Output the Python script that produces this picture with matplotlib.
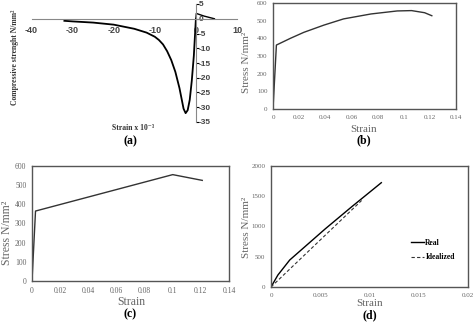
import numpy as np
import matplotlib.pyplot as plt

plt.rcParams['axes.unicode_minus'] = False

# (a) concrete compression / tension curve (strain x 10^-3, N/mm2)
comp_strain = [-32, -30, -25, -20, -15, -12, -10, -9, -8, -7, -6, -5, -4, -3.5, -3, -2.5, -2, -1.5, -1, -0.5, 0]
comp_stress = [-0.7, -0.9, -1.3, -2.0, -3.4, -4.7, -6.1, -7.2, -8.7, -11, -14, -18, -23.5, -27, -30.5, -32, -31, -27.5, -21, -12.5, 0]
tens_strain = [0, 0.1, 2, 4.5]
tens_stress = [0, 1.8, 0.9, 0]

# (b) steel real curve
b_strain = [0, 0.0026, 0.0133, 0.0236, 0.039, 0.054, 0.075, 0.095, 0.106, 0.116, 0.1215]
b_stress = [0, 362, 400, 434, 475, 510, 538, 555, 557, 545, 528]

# (c) steel idealized
c_strain = [0, 0.0025, 0.1, 0.121]
c_stress = [0, 365, 555, 525]

# (d) real vs idealized
d_real_x = [0, 0.0007, 0.0019, 0.0041, 0.0055, 0.0082, 0.0112]
d_real_y = [0, 198, 446, 760, 960, 1327, 1724]
d_ideal_x = [0, 0.0092]
d_ideal_y = [0, 1430]

W, H = 474, 322
fig = plt.figure(figsize=(W / 100, H / 100), dpi=100)
grey = '#666666'
serif = 'Liberation Serif'
serif_list = ['Liberation Serif', 'DejaVu Serif']

def box(l, t, r, b):
    return [l / W, 1 - b / H, (r - l) / W, (b - t) / H]

# ---- (a)
ax = fig.add_axes(box(31.5, 4, 237, 122))
ax.plot(comp_strain, comp_stress, color='black', lw=1.3)
ax.plot(tens_strain, tens_stress, color='black', lw=1.0)
ax.set_xlim(-40, 10)
ax.set_ylim(-35, 5)
# axes cross at the origin, y labels sit right of the vertical axis
ax.spines['left'].set_position(('data', 0))
ax.spines['right'].set_position(('data', 0))
ax.spines['bottom'].set_position(('data', 0))
ax.spines['top'].set_visible(False)
ax.spines['right'].set_visible(False)
for s in ['left', 'bottom']:
    ax.spines[s].set_color('#888888')
    ax.spines[s].set_linewidth(0.8)
ax.set_xticks(np.arange(-40, 11, 10))
ax.set_yticks(np.arange(-35, 6, 5))
ax.tick_params(axis='x', length=0, pad=5, labelsize=6.5, labelcolor='#444444')
ax.tick_params(axis='y', length=2, direction='in', pad=2, labelsize=6, labelcolor='#444444',
               labelleft=False, labelright=True, right=False)
for lab in ax.get_xticklabels() + ax.get_yticklabels():
    lab.set_fontweight('bold')
    lab.set_family('Liberation Sans')
fig.text(15 / W, 1 - 57 / H, 'Compressive strenght N/mm²', rotation=90, ha='center', va='center',
         family=serif_list, fontsize=5.5, fontweight='bold', color='#333333')
fig.text(133 / W, 1 - 128 / H, 'Strain x 10⁻³', ha='center', va='center',
         family=serif_list, fontsize=5.5, fontweight='bold', color='#333333')
fig.text(130 / W, 1 - 141 / H, '(a)', ha='center', va='center', family=serif, fontsize=8.5,
         fontweight='bold')

def frame(ax, xt, yt, xfmt, size):
    for s in ax.spines.values():
        s.set_color('#555555')
        s.set_linewidth(1.0)
    ax.set_xticks(xt)
    ax.set_yticks(yt)
    ax.set_xticklabels([xfmt(v) for v in xt])
    ax.tick_params(length=0, labelsize=size, labelcolor=grey, pad=4)
    for lab in ax.get_xticklabels() + ax.get_yticklabels():
        lab.set_family(serif)

def fmt_b(v):
    return '0' if v == 0 else ('%.2f' % v).rstrip('0')

# ---- (b)
ax = fig.add_axes(box(273, 3, 456, 109))
ax.plot(b_strain, b_stress, color='#333333', lw=1.0)
ax.set_xlim(0, 0.14)
ax.set_ylim(0, 600)
frame(ax, np.arange(0, 0.141, 0.02), np.arange(0, 601, 100), fmt_b, 5)
fig.text(247 / W, 1 - 62 / H, 'Stress N/mm²', rotation=90, ha='center', va='center',
         family=serif, fontsize=8, color=grey)
fig.text(364 / W, 1 - 129 / H, 'Strain', ha='center', va='center', family=serif, fontsize=8, color=grey)
fig.text(364 / W, 1 - 140 / H, '(b)', ha='center', va='center', family=serif, fontsize=8.5,
         fontweight='bold')

# ---- (c)
ax = fig.add_axes(box(32, 166, 229, 281))
ax.plot(c_strain, c_stress, color='#333333', lw=1.0)
ax.set_xlim(0, 0.14)
ax.set_ylim(0, 600)
frame(ax, np.arange(0, 0.141, 0.02), np.arange(0, 601, 100), fmt_b, 5.5)
fig.text(7 / W, 1 - 233 / H, 'Stress N/mm²', rotation=90, ha='center', va='center',
         family=serif, fontsize=8.5, color=grey)
fig.text(131 / W, 1 - 302 / H, 'Strain', ha='center', va='center', family=serif, fontsize=8.5, color=grey)
fig.text(130 / W, 1 - 314 / H, '(c)', ha='center', va='center', family=serif, fontsize=8.5,
         fontweight='bold')

# ---- (d)
def fmt_d(v):
    return '0' if v == 0 else ('%.3f' % v).rstrip('0')

ax = fig.add_axes(box(271, 166, 468, 287))
ax.plot(d_real_x, d_real_y, color='black', lw=1.0, label='Real')
ax.plot(d_ideal_x, d_ideal_y, color='#333333', lw=0.8, ls=(0, (3, 2)), label='Idealized')
ax.set_xlim(0, 0.02)
ax.set_ylim(0, 2000)
frame(ax, np.arange(0, 0.0201, 0.005), np.arange(0, 2001, 500), fmt_d, 5)
leg = ax.legend(loc='center left', bbox_to_anchor=(0.675, 0.306), frameon=False, handlelength=1.7,
                handletextpad=0.2, labelspacing=0.85, prop={'family': serif, 'size': 5.5, 'weight': 'bold'})
fig.text(247 / W, 1 - 227 / H, 'Stress N/mm²', rotation=90, ha='center', va='center',
         family=serif, fontsize=8, color=grey)
fig.text(370 / W, 1 - 304 / H, 'Strain', ha='center', va='center', family=serif, fontsize=8, color=grey)
fig.text(370 / W, 1 - 315 / H, '(d)', ha='center', va='center', family=serif, fontsize=8.5,
         fontweight='bold')

fig.savefig('out.png', dpi=100, facecolor='white')
